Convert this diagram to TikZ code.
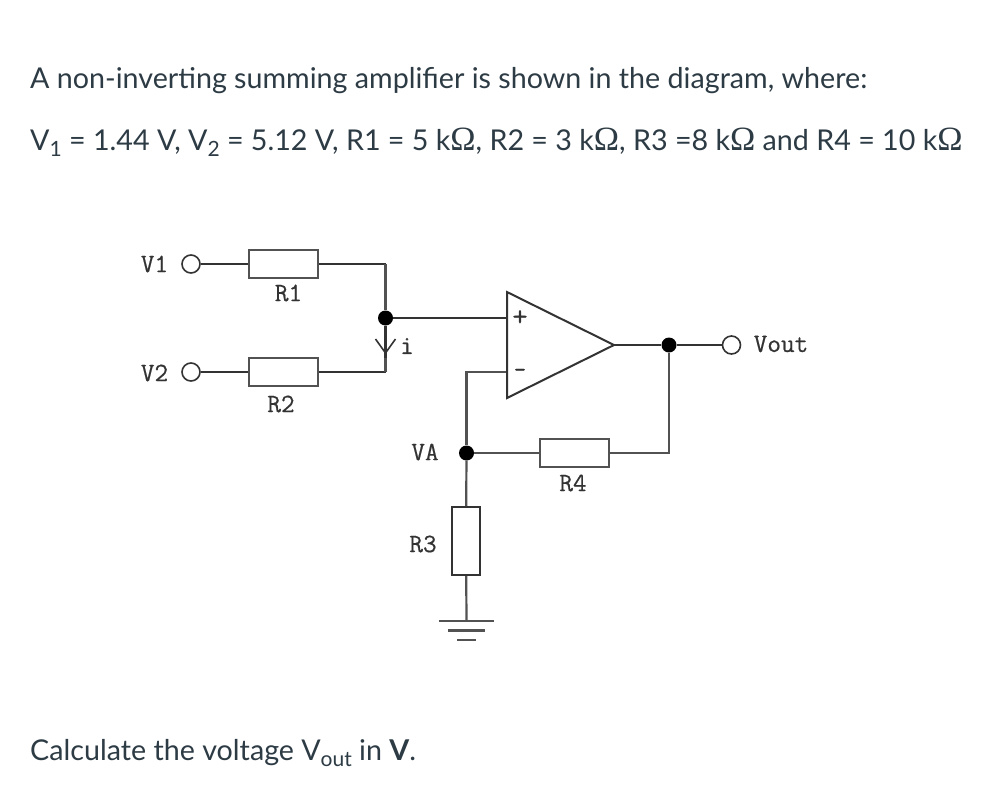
\documentclass[tikz,border=0pt]{standalone}
\usepackage{fontspec}
\setmainfont{Lato}
\newfontfamily\omegafont{Liberation Serif}
\newfontfamily\circfont[FakeBold=0.5]{Latin Modern Mono}
\usetikzlibrary{calc}
\definecolor{ink}{HTML}{2D3B45}
\definecolor{wirec}{HTML}{333333}
\newcommand{\kohm}{k{\omegafont\fontsize{34}{34}\selectfont Ω}}
\newcommand{\sbs}[1]{\raisebox{-6.5pt}{\fontsize{21}{21}\selectfont #1}}
\tikzset{
  x=1pt,y=-1pt,
  wire/.style={draw=wirec,line width=1.6pt},
  thickwire/.style={draw=wirec!85!white,line width=2.2pt},
  resistor/.style={draw=wirec!85!white,line width=2.2pt,fill=white,minimum width=69pt,minimum height=28pt,inner sep=0pt},
  resistorv/.style={draw=wirec,line width=2pt,fill=white,minimum width=28pt,minimum height=68pt,inner sep=0pt},
  terminal/.style={circle,draw=wirec,line width=1.6pt,fill=white,minimum size=18pt,inner sep=0pt},
  junction/.style={circle,fill=black,minimum size=15pt,inner sep=0pt},
  clabel/.style={font=\circfont\fontsize{26.5}{26.5}\selectfont,text=wirec,inner sep=0pt},
  prose/.style={font=\fontsize{28.66}{29}\selectfont,text=ink,anchor=base west,inner sep=0pt},
}
\begin{document}
\begin{tikzpicture}
\useasboundingbox[fill=white] (0,0) rectangle (992,796);
\node[prose] (t1) at (30,88) {A non-inverting summing amplifier is shown in the diagram, where:};
\node[prose] (t2) at (30,150) {V\sbs{1} = 1.44 V, V\sbs{2} = 5.12 V, R1 = 5 \kohm, R2 = 3 \kohm, R3 =8 \kohm\ and R4 = 10 \kohm};
\node[prose] (t3) at (30,760) {Calculate the voltage V\sbs{out} in \textbf{V}.};

\coordinate (tl) at (507,292);
\coordinate (bl) at (507,398);
\coordinate (apex) at (614,345);
\coordinate (plus) at (507,318);
\coordinate (minus) at (507,372);
\coordinate (c1) at (385.5,264);
\coordinate (c2) at (385.5,372);
\coordinate (c3) at (466.5,372);
\coordinate (c4) at (669,453);
\coordinate (gnd) at (466.5,621);
\coordinate (g1l) at (439,621); \coordinate (g1r) at (494,621);
\coordinate (g2l) at (448,630.5); \coordinate (g2r) at (485,630.5);
\coordinate (g3l) at (457,640); \coordinate (g3r) at (476,640);
\coordinate (tip) at (385.5,353);
\coordinate (al) at (375.5,339);
\coordinate (ar) at (395.5,339);

\node[terminal] (v1) at (191,264) {};
\node[terminal] (v2) at (191,372) {};
\node[terminal] (vo) at (731.5,345) {};
\node[resistor] (r1) at (283.5,264) {};
\node[resistor] (r2) at (283.5,372) {};
\node[resistor] (r4) at (574.5,453) {};
\node[resistorv] (r3) at (466,541) {};
\node[junction] (j1) at (385.5,318) {};
\node[junction] (ja) at (466.5,453) {};
\node[junction] (jo) at (669,345) {};

\draw[wire] (v1) -- (r1);
\draw[wire] (v2) -- (r2);
\draw[wire] (r1) -| (c1);
\draw[thickwire] (c1) -- (j1);
\draw[wire] (r2) -| (c2);
\draw[thickwire] (c2) -- (j1);
\draw[wire,line width=3.4pt] (j1) -- (385.5,358);
\draw[wire] (al) -- (tip) -- (ar);
\draw[wire] (j1) -- (plus);
\draw[thickwire] (minus) -- (c3) -- (ja);
\draw[thickwire] (ja) -- (r4);
\draw[thickwire] (r4) -- (c4) -- (jo);
\draw[thickwire] (ja) -- (r3);
\draw[thickwire] (r3) -- (gnd);
\draw[wire] (apex) -- (jo) -- (vo);
\draw[wire,line width=2pt,line join=miter] (tl) -- (apex) -- (bl) -- cycle;
\draw[thickwire] (g1l) -- (g1r);
\draw[thickwire] (g2l) -- (g2r);
\draw[thickwire] (g3l) -- (g3r);

\node[clabel,font=\circfont\fontsize{30}{30}\selectfont] (lplus) at (520,318) {+};
\node[clabel,font=\circfont\fontsize{24}{24}\selectfont] (lminus) at (520,373) {-};
\node[clabel] (lv1) at (154.5,264) {V1};
\node[clabel] (lv2) at (154.5,373) {V2};
\node[clabel] (lr1) at (288.5,293) {R1};
\node[clabel] (lr2) at (281,404) {R2};
\node[clabel] (lr4) at (573,483) {R4};
\node[clabel] (lr3) at (423,544) {R3};
\node[clabel] (lva) at (425,452) {VA};
\node[clabel] (li) at (407,346) {i};
\node[clabel] (lvo) at (781,344) {Vout};
\end{tikzpicture}
\end{document}
